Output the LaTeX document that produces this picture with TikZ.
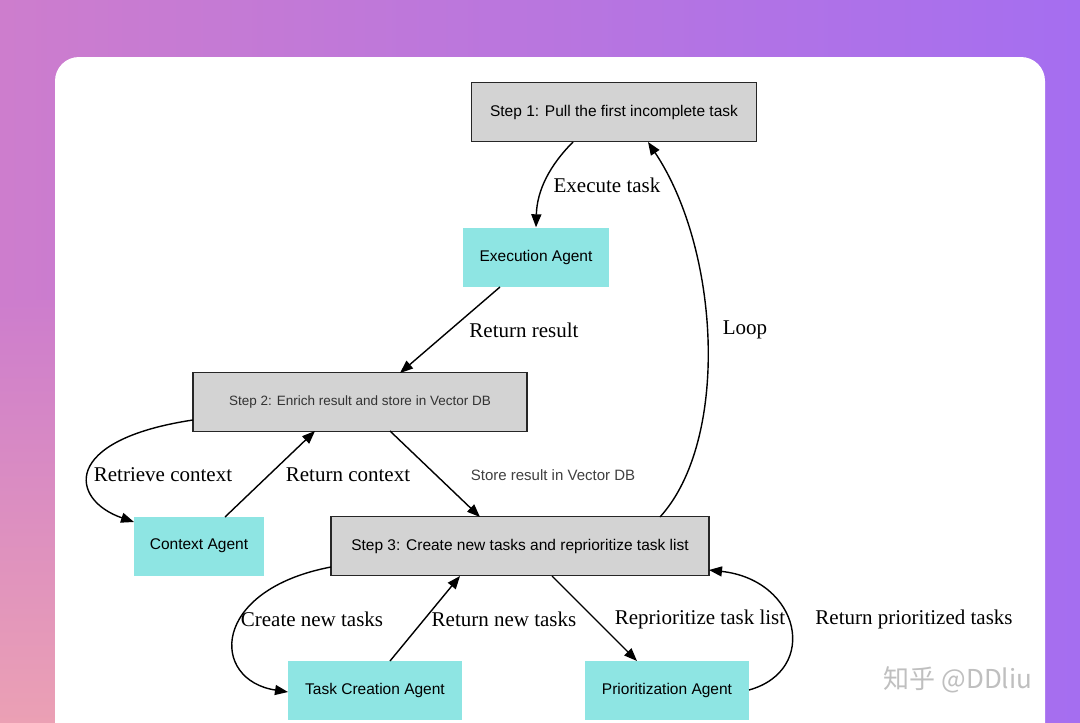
\documentclass[tikz,border=0pt]{standalone}
\usepackage{fontspec}
\setmainfont{Liberation Serif}
\newfontfamily\nodefont{Liberation Sans}
\newfontfamily\cjkfont{Noto Sans CJK SC}
\usetikzlibrary{arrows.meta}
\definecolor{boxgray}{HTML}{D3D3D3}
\definecolor{agentcyan}{HTML}{8EE5E3}
\definecolor{bgl}{HTML}{CD7DCD}
\definecolor{bgr}{HTML}{A56EF0}
\definecolor{bgb}{HTML}{EBA0B4}
\begin{document}
\begin{tikzpicture}[x=1pt,y=-1pt,
  stepbox/.style={draw=black!85,line width=1.5pt,fill=boxgray,minimum height=59pt,inner sep=0pt,font=\nodefont\fontsize{15.5}{17}\selectfont},
  agent/.style={fill=agentcyan,minimum height=59pt,inner sep=0pt,font=\nodefont\fontsize{15.5}{17}\selectfont},
  edge/.style={-{Triangle[length=13pt,width=10pt]},line width=1.4pt},
  lab/.style={font=\fontsize{21}{24}\selectfont}]
\useasboundingbox (0,0) rectangle (1080,723);
\shade[left color=bgl,right color=bgr] (0,0) rectangle (1080,723);
\shade[top color=bgl,bottom color=bgb] (0,300) rectangle (60,723);
\fill[white,rounded corners=24pt] (55,57) rectangle (1045,760);

\node[stepbox,minimum width=285pt] (s1) at (614,112) {Step 1: Pull the first incomplete task};
\node[agent,minimum width=146pt] (ea) at (536,257) {Execution Agent};
\node[stepbox,minimum width=334pt,font=\nodefont\fontsize{13.5}{15}\selectfont,text=black!80] (s2) at (360,402) {Step 2: Enrich result and store in Vector DB};
\node[agent,minimum width=130pt] (ca) at (199,546) {Context Agent};
\node[stepbox,minimum width=378pt] (s3) at (520,546) {Step 3: Create new tasks and reprioritize task list};
\node[agent,minimum width=174pt] (tc) at (375,690) {Task Creation Agent};
\node[agent,minimum width=164pt] (pa) at (667,690) {Prioritization Agent};

\draw[edge] (573,142) .. controls (550,165) and (537,190) .. (ea.north);
\node[lab] (l1) at (607,185) {Execute task};
\draw[edge] (500,287) -- (400,373);
\node[lab] (l2) at (524,330) {Return result};
\draw[edge] (193,420) .. controls (60,440) and (70,500) .. (134,522);
\node[lab] (l3) at (163,475) {Retrieve context};
\draw[edge] (225,517) -- (315,431);
\node[lab] (l4) at (348,475) {Return context};
\draw[edge] (390,431) -- (480,517);
\node[font=\nodefont\fontsize{15}{17}\selectfont,text=black!75] (l5) at (553,475) {Store result in Vector DB};
\draw[edge] (660,517) .. controls (730,440) and (720,250) .. (648,142);
\node[lab] (l6) at (745,330) {Loop};
\draw[edge] (331,567) .. controls (210,590) and (210,680) .. (288,692);
\node[lab] (l7) at (312,619) {Create new tasks};
\draw[edge] (390,661) -- (460,576);
\node[lab] (l8) at (504,619) {Return new tasks};
\draw[edge] (552,576) -- (637,661);
\node[lab] (l9) at (700,619) {Reprioritize task list};
\draw[edge] (749,690) .. controls (820,670) and (800,580) .. (709,570);
\node[lab] (l10) at (914,619) {Return prioritized tasks};

\node[text=black!25,font=\cjkfont\fontsize{26}{30}\selectfont] (wm) at (958,680) {知乎 @DDliu};
\end{tikzpicture}
\end{document}
